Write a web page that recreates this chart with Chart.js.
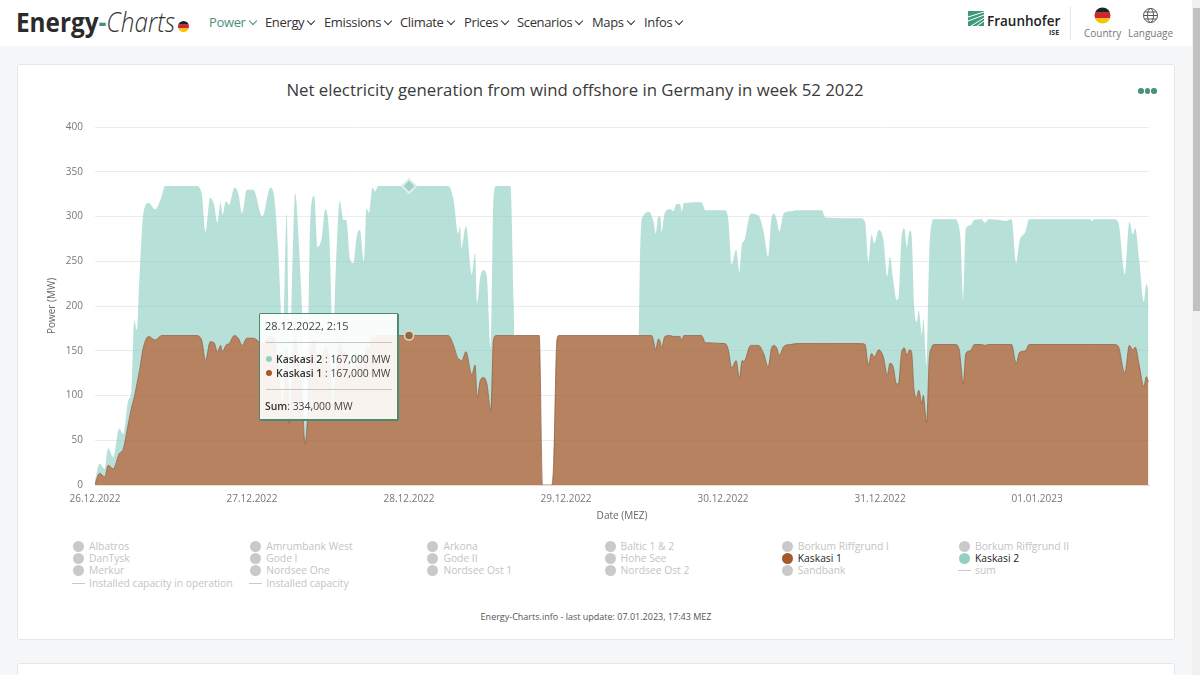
<!DOCTYPE html>
<html lang="en">
<head>
<meta charset="utf-8">
<title>Energy-Charts</title>
<script src="https://cdn.jsdelivr.net/npm/chart.js@4"></script>
<style>
    * { box-sizing: border-box; }
    html, body { margin: 0; height: 100%; overflow: hidden; }
    body { background: #f5f7f8; font-family: "Open Sans", sans-serif; color: #333; width: 1200px; height: 675px; position: relative; }
    .abs { position: absolute; white-space: nowrap; }
    #header { left: 0; top: 0; width: 1192px; height: 46px; background: #fff; }
    #brand { left: 16px; top: 4px; font-size: 27px; line-height: 36px; font-weight: 700; color: #2b2b2b; transform: scaleX(.9); transform-origin: left center; }
    #brand span { color: #4a9277; }
    #brand i { font-weight: 300; color: #333; font-size: 27px; }
    .nav { top: 13px; font-size: 13px; line-height: 18px; color: #333; letter-spacing: -.35px; }
    .nav.on { color: #4a9277; }
    .nav::after { content: ""; display: inline-block; width: 5px; height: 5px; margin: 0 1px 3px 4px; border: solid currentColor; border-width: 0 1.6px 1.6px 0; transform: rotate(45deg); }
    #fraunhofer { left: 987px; top: 11px; font-size: 13.5px; line-height: 20px; font-weight: 600; color: #222; }
    #ise { left: 1049px; top: 28px; font-size: 7px; line-height: 10px; font-weight: 700; color: #333; }
    #sep { left: 1070px; top: 6px; width: 1px; height: 34px; background: #e6e6e6; }
    .hlabel { top: 26px; font-size: 10px; line-height: 15px; color: #777; }
    .card { background: #fff; border: 1px solid #e4e6e8; border-radius: 3px; }
    #card1 { left: 17px; top: 64px; width: 1158px; height: 576px; }
    #card2 { left: 17px; top: 663px; width: 1158px; height: 40px; }
    #title { left: 17px; width: 1116px; top: 78px; text-align: center; font-size: 16.8px; line-height: 24px; font-weight: 500; color: #3a3a3a; }
    #dots { left: 1138px; top: 88px; font-size: 0; }
    #dots b { display: inline-block; width: 5.5px; height: 5.5px; border-radius: 50%; background: #4a9277; margin-right: 1px; }
    #chartWrap { left: 46px; top: 109px; width: 1114px; height: 413px; }
    #legend div { position: absolute; font-size: 10.3px; line-height: 12px; color: #c4c4c4; white-space: nowrap; }
    #legend .dot { position: absolute; left: -16px; top: 0.5px; width: 11px; height: 11px; border-radius: 50%; background: #c9c9c9; }
    #legend .dash { position: absolute; left: -17px; top: 6px; width: 13px; height: 1px; background: #c9c9c9; }
    #updated { left: 17px; width: 1158px; top: 610px; text-align: center; font-size: 9px; line-height: 14px; color: #555; }
    #tip { left: 259px; top: 313px; width: 140px; height: 108px; background: rgba(255,255,255,.9); border: 1px solid #4c8a73; border-width: 1px 2px 2px 1px; border-radius: 2px; font-size: 10.4px; color: #444; }
    #tip div { position: absolute; left: 5px; white-space: nowrap; line-height: 14px; }
    #tip hr { position: absolute; left: 6px; width: 126px; margin: 0; border: 0; border-top: 1px solid #c9c5c2; }
    #tip .d { position: absolute; left: 0; top: 4px; width: 6px; height: 6px; border-radius: 50%; }
    #tip b { font-weight: 600; color: #333; }
    #scroll { left: 1192px; top: 0; width: 8px; height: 675px; background: #f1f1f1; }
    #thumb { left: 1193px; top: 8px; width: 7px; height: 303px; background: #c1c1c1; }
</style>
</head>
<body>
<div class="abs" id="header"></div>
<div class="abs" id="brand">Energy<span>-</span><i>Charts</i></div>
<svg class="abs" style="left:178px;top:21px" width="11" height="11" viewBox="0 0 11 11"><clipPath id="c1"><circle cx="5.5" cy="5.5" r="5.5"/></clipPath><g clip-path="url(#c1)"><rect width="11" height="3.7" fill="#222"/><rect y="3.7" width="11" height="3.7" fill="#d8232a"/><rect y="7.4" width="11" height="3.6" fill="#f6c500"/></g></svg>
<div id="navItems"></div>
<svg class="abs" style="left:968px;top:11px" width="16" height="15" viewBox="0 0 16 15"><rect width="16" height="15" fill="#3f9a7c"/><path d="M0 6 L16 1 M0 10 L16 4 M3 15 L16 7 M9 15 L16 10" stroke="#fff" stroke-width="1"/></svg>
<div class="abs" id="fraunhofer">Fraunhofer</div>
<div class="abs" id="ise">ISE</div>
<div class="abs" id="sep"></div>
<svg class="abs" style="left:1094px;top:7px" width="17" height="17" viewBox="0 0 17 17"><clipPath id="c2"><circle cx="8.5" cy="8.5" r="8"/></clipPath><g clip-path="url(#c2)"><rect width="17" height="5.7" fill="#222"/><rect y="5.7" width="17" height="5.6" fill="#d8232a"/><rect y="11.3" width="17" height="5.7" fill="#f6c500"/></g></svg>
<svg class="abs" style="left:1142px;top:7px" width="17" height="17" viewBox="0 0 17 17" fill="none" stroke="#555" stroke-width="1"><circle cx="8.5" cy="8.5" r="7"/><ellipse cx="8.5" cy="8.5" rx="3" ry="7"/><path d="M1.5 8.5H15.5M2.5 5H14.5M2.5 12H14.5"/></svg>
<div class="abs hlabel" style="left:1084px">Country</div>
<div class="abs hlabel" style="left:1128px">Language</div>

<div class="abs card" id="card1"></div>
<div class="abs card" id="card2"></div>
<div class="abs" id="title">Net electricity generation from wind offshore in Germany in week 52 2022</div>
<div class="abs" id="dots"><b></b><b></b><b></b></div>
<div class="abs" id="chartWrap"><canvas id="chart" width="1114" height="413"></canvas></div>
<div id="legend"></div>
<div class="abs" id="updated">Energy-Charts.info - last update: 07.01.2023, 17:43 MEZ</div>
<div class="abs" id="tip"></div>
<div class="abs" id="scroll"></div>
<div class="abs" id="thumb"></div>

<script>
const navLabels = ['Power', 'Energy', 'Emissions', 'Climate', 'Prices', 'Scenarios', 'Maps', 'Infos'];
const navLeft = [209, 265, 324, 400, 464, 517, 592, 644];

const dayLabels = ['26.12.2022', '27.12.2022', '28.12.2022', '29.12.2022', '30.12.2022', '31.12.2022', '01.01.2023'];

// hours since 26.12. 00:00 on the chart's axis, only where the curve bends
const hours = [
    0, 0.7, 1.5, 2, 2.8, 3.7, 4.3, 5.1, 5.6, 6, 6.4, 6.8, 7.4, 8.2, 9.2, 10.2, 10.7, 15.5, 16.3, 16.9,
    17.6, 18.2, 18.7, 19.2, 19.5, 20, 20.5, 21.3, 21.9, 22.5, 23.2, 24.2, 25.6, 26.8, 27.3, 28, 28.7, 29.3, 29.7, 30.1,
    30.6, 31.1, 31.7, 32.1, 32.6, 32.9, 33.5, 34, 34.7, 35.2, 35.8, 36.4, 36.8, 37.4, 38, 38.4, 39, 39.5, 40, 40.5,
    41.1, 41.5, 41.9, 42.4, 42.8, 43.3, 48, 54, 54.8, 55.5, 55.8, 56, 56.7, 57.6, 58.1, 58.4, 58.9, 59.4, 59.9, 60.5,
    60.9, 61.3, 63.5, 64, 64.1, 67.9, 68.4, 69.8, 70.1, 70.6, 70.9, 83.1,
    83.3, 83.6, 84.8, 85.1, 85.4, 85.7, 86.1, 86.4, 86.6, 87.1, 87.9, 88.4, 88.9, 89.4, 89.7, 90, 92.7, 93.3, 96.3, 96.8,
    97.3, 98, 98.5, 98.9, 99.2, 100.2, 101.4, 102.2, 102.9, 103.4, 103.8, 104.2, 104.6, 105.3, 106.3, 107.3, 111.1, 111.6, 117, 117.7,
    118.2, 118.7, 119.1, 119.8, 120.5, 121.1, 121.5,
    122, 122.5, 122.8, 123.3, 123.7, 124.1, 124.5, 124.8, 125.2, 125.6, 125.9, 126.4, 126.6, 127.1, 127.5, 127.9, 128.2, 131.5, 132.1, 132.3,
    132.7, 133.1, 133.8, 134.4, 135.5, 136, 136.6, 138.3, 139.1, 140.1, 140.8, 141.3, 142.2, 142.8, 152.1, 152.4, 152.7, 155.7, 156.4, 157.4,
    158.1, 158.6, 159, 159.6, 160.3, 160.7, 161
];

const kaskasi1 = [
    1, 13, 9, 22, 18, 35, 40, 69, 87, 98, 113, 128, 154, 166, 162, 167, 167, 167, 162, 139,
    160, 159, 149, 156, 149, 156, 158, 167, 164, 156, 164, 164, 158, 166, 164, 132, 83, 152, 69, 111,
    163, 139, 92, 46, 92, 148, 161, 133, 139, 154, 141, 83, 120, 158, 148, 148, 126, 124, 139, 143,
    125, 155, 152, 166, 164, 167, 167, 167, 156, 141, 140, 138, 149, 123, 134, 98, 117, 120, 113, 83,
    162, 167, 167, 167, 167, 167, 0, 0, 24, 162, 167, 167,
    167, 167, 167, 167, 160, 151, 163, 160, 153, 166, 167, 166, 166, 166, 161, 167, 167, 159, 158, 151,
    131, 139, 119, 139, 138, 156, 156, 147, 132, 153, 156, 153, 145, 155, 157, 158, 158, 158, 158, 157,
    134, 147, 143, 151, 143, 123, 136,
    132, 113, 113, 149, 153, 145, 151, 149, 106, 98, 106, 91, 100, 70, 139, 154, 157, 157, 151, 139,
    113, 147, 150, 157, 157, 156, 157, 157, 157, 157, 136, 148, 150, 157, 157, 157, 157, 157, 155, 125,
    156, 151, 154, 134, 110, 121, 115
];

const kaskasi2 = [
    4, 11, 9, 19, 13, 28, 17, 26, 19, 86, 60, 105, 150, 149, 146, 156, 167, 167, 164, 144,
    161, 154, 144, 159, 153, 161, 155, 165, 162, 148, 166, 166, 142, 166, 162, 131, 83, 152, 69, 111,
    163, 139, 92, 49, 92, 148, 162, 133, 139, 154, 140, 83, 120, 159, 148, 148, 126, 124, 139, 142,
    125, 154, 152, 166, 164, 167, 167, 167, 163, 140, 149, 127, 140, 112, 125, 105, 116, 120, 120, 71,
    157, 167, 167, 36, 0, 0, 0, 0, 0, 0, 0, 0,
    88, 131, 138, 133, 133, 130, 137, 140, 130, 138, 141, 140, 148, 148, 145, 148, 149, 148, 149, 145,
    115, 124, 119, 131, 134, 147, 145, 136, 123, 145, 147, 143, 138, 149, 149, 149, 149, 141, 140, 137,
    114, 133, 127, 134, 131, 110, 119,
    97, 94, 95, 129, 134, 121, 133, 131, 95, 84, 89, 76, 86, 62, 116, 139, 140, 140, 136, 135,
    94, 140, 140, 139, 140, 137, 140, 139, 138, 140, 112, 124, 133, 140, 140, 138, 140, 140, 139, 110,
    138, 129, 133, 118, 95, 104, 103
];

const legendNames = [
    'Albatros', 'Amrumbank West', 'Arkona', 'Baltic 1 & 2', 'Borkum Riffgrund I', 'Borkum Riffgrund II',
    'DanTysk', 'Gode I', 'Gode II', 'Hohe See', 'Kaskasi 1', 'Kaskasi 2',
    'Merkur', 'Nordsee One', 'Nordsee Ost 1', 'Nordsee Ost 2', 'Sandbank', 'sum',
    'Installed capacity in operation', 'Installed capacity'
];
const lineEntries = ['sum', 'Installed capacity in operation', 'Installed capacity'];
const activeColors = { 'Kaskasi 1': '#a5582b', 'Kaskasi 2': '#93d0c4' };

const activeHour = 48;
const activeIdx = hours.indexOf(activeHour);

// header nav
document.getElementById('navItems').innerHTML = navLabels.map((n, i) =>
    `<div class="abs nav ${i === 0 ? 'on' : ''}" style="left:${navLeft[i]}px">${n}</div>`).join('');

// legend is plain DOM, the hidden series have no values to show
document.getElementById('legend').innerHTML = legendNames.map((n, i) => {
    const col = i % 6, row = Math.floor(i / 6);
    const color = activeColors[n];
    const mark = lineEntries.includes(n) ? '<span class="dash"></span>'
        : `<span class="dot" ${color ? `style="background:${color}"` : ''}></span>`;
    return `<div style="left:${89 + col * 177.2}px;top:${540 + row * 12.2}px;${color ? 'color:#222;font-weight:500' : ''}">${mark}${n}</div>`;
}).join('');

// frozen hover box, same as the reference
document.getElementById('tip').innerHTML = `
    <div style="top:5px;font-size:11px">28.12.2022, 2:15</div>
    <hr style="top:28px">
    <div style="top:38px;left:16px"><span class="d" style="left:-10px;background:#93d0c4"></span><b>Kaskasi 2</b> : ${kaskasi2[activeIdx]},000 MW</div>
    <div style="top:52px;left:16px"><span class="d" style="left:-10px;background:#a5582b"></span><b>Kaskasi 1</b> : ${kaskasi1[activeIdx]},000 MW</div>
    <hr style="top:75px">
    <div style="top:85px"><b>Sum</b>: ${kaskasi1[activeIdx] + kaskasi2[activeIdx]},000 MW</div>`;

const toPoints = vals => hours.map((h, i) => ({ x: h, y: vals[i] }));

new Chart(document.getElementById('chart'), {
    type: 'line',
    data: {
        datasets: [
            {
                label: 'Kaskasi 1',
                data: toPoints(kaskasi1),
                fill: 'origin',
                cubicInterpolationMode: 'monotone',
                backgroundColor: 'rgba(165,99,56,0.8)',
                borderColor: 'rgba(140,90,60,0.7)',
                borderWidth: 1,
                pointStyle: 'circle',
                pointRadius: c => c.dataIndex === activeIdx ? 4.5 : 0,
                pointBackgroundColor: 'rgba(130,105,80,0.95)',
                pointBorderColor: '#f7d3aa',
                pointBorderWidth: 1.5
            },
            {
                label: 'Kaskasi 2',
                data: toPoints(kaskasi2),
                fill: '-1',
                cubicInterpolationMode: 'monotone',
                backgroundColor: 'rgba(147,208,196,0.667)',
                borderWidth: 0,
                pointStyle: 'rectRot',
                pointRadius: c => c.dataIndex === activeIdx ? 7 : 0,
                pointBackgroundColor: '#a3d3c8',
                pointBorderColor: '#dff0ec',
                pointBorderWidth: 2
            }
        ]
    },
    options: {
        responsive: false,
        animation: false,
        layout: { padding: { top: 0, right: 11, left: 0, bottom: 0 } },
        plugins: { legend: { display: false }, tooltip: { enabled: false } },
        scales: {
            x: {
                type: 'linear',
                min: 0,
                max: 161.1,
                afterFit: s => { s.height = 37; },
                grid: { display: false },
                border: { color: '#ecd9d2' },
                ticks: {
                    stepSize: 24,
                    autoSkip: false,
                    maxRotation: 0,
                    padding: 0,
                    color: '#777',
                    font: { family: '"Open Sans"', size: 10 },
                    callback: v => dayLabels[v / 24]
                },
                title: { display: true, text: 'Date (MEZ)', color: '#666', padding: { top: 3, bottom: 0 }, font: { family: '"Open Sans"', size: 10 } }
            },
            y: {
                stacked: true,
                min: 0,
                max: 400,
                afterFit: s => { s.width = 49; },
                grid: { color: '#ebebeb', drawTicks: false },
                border: { display: false },
                ticks: {
                    stepSize: 50,
                    padding: 12,
                    color: '#777',
                    font: { family: '"Open Sans"', size: 10 }
                },
                title: { display: true, text: 'Power (MW)', color: '#666', padding: { top: 0, bottom: 0 }, font: { family: '"Open Sans"', size: 10 } }
            }
        }
    }
});
</script>
</body>
</html>
